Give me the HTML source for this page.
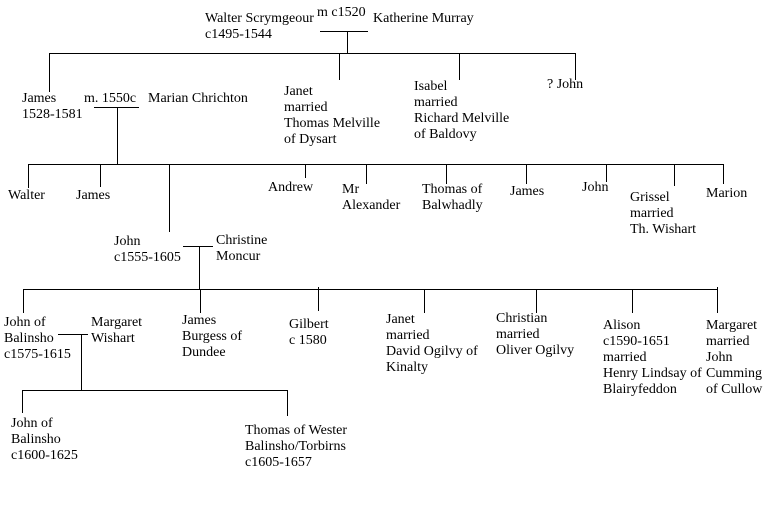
<!DOCTYPE html>
<html><head><meta charset="utf-8"><style>
body{margin:0;width:774px;height:525px;background:#fff;position:relative;overflow:hidden;font-family:"Liberation Serif",serif;font-size:14px;line-height:16px;color:#000}
.t{position:absolute;white-space:nowrap}
svg{position:absolute;left:0;top:0}
</style></head><body>
<svg width="774" height="525" stroke="#000" stroke-width="1" shape-rendering="crispEdges">
<path d="M320 31.5H368M347.5 31V53M49 53.5H576M49.5 53V92M339.5 53V80M459.5 53V80M575.5 53V80
M94 107.5H139M117.5 107V164M28 164.5H724M28.5 164V188M100.5 164V187M169.5 164V232M305.5 164V178M366.5 164V184M446.5 164V184M526.5 164V184M606.5 164V182M674.5 164V186M723.5 164V184
M183 246.5H213M199.5 246V289M23 289.5H717M23.5 289V313M200.5 289V313M318.5 287V311M424.5 289V313M536.5 289V313M632.5 289V313M717.5 287V313
M58 334.5H88M81.5 334V390M22 390.5H288M22.5 390V413M287.5 390V416" fill="none"/>
</svg>
<div class="t" style="left:205px;top:11px">Walter Scrymgeour<br>c1495-1544</div>
<div class="t" style="left:317px;top:5px">m c1520</div>
<div class="t" style="left:373px;top:11px">Katherine Murray</div>
<div class="t" style="left:22px;top:91px">James<br>1528-1581</div>
<div class="t" style="left:84px;top:91px">m. 1550c</div>
<div class="t" style="left:148px;top:91px">Marian Chrichton</div>
<div class="t" style="left:284px;top:84px">Janet<br>married<br>Thomas Melville<br>of Dysart</div>
<div class="t" style="left:414px;top:79px">Isabel<br>married<br>Richard Melville<br>of Baldovy</div>
<div class="t" style="left:547px;top:77px">? John</div>
<div class="t" style="left:8px;top:188px">Walter</div>
<div class="t" style="left:76px;top:188px">James</div>
<div class="t" style="left:268px;top:180px">Andrew</div>
<div class="t" style="left:342px;top:182px">Mr<br>Alexander</div>
<div class="t" style="left:422px;top:182px">Thomas of<br>Balwhadly</div>
<div class="t" style="left:510px;top:184px">James</div>
<div class="t" style="left:582px;top:180px">John</div>
<div class="t" style="left:630px;top:190px">Grissel<br>married<br>Th. Wishart</div>
<div class="t" style="left:706px;top:186px">Marion</div>
<div class="t" style="left:114px;top:234px">John<br>c1555-1605</div>
<div class="t" style="left:216px;top:233px">Christine<br>Moncur</div>
<div class="t" style="left:4px;top:315px">John of<br>Balinsho<br>c1575-1615</div>
<div class="t" style="left:91px;top:315px">Margaret<br>Wishart</div>
<div class="t" style="left:182px;top:313px">James<br>Burgess of<br>Dundee</div>
<div class="t" style="left:289px;top:317px">Gilbert<br>c 1580</div>
<div class="t" style="left:386px;top:312px">Janet<br>married<br>David Ogilvy of<br>Kinalty</div>
<div class="t" style="left:496px;top:311px">Christian<br>married<br>Oliver Ogilvy</div>
<div class="t" style="left:603px;top:318px">Alison<br>c1590-1651<br>married<br>Henry Lindsay of<br>Blairyfeddon</div>
<div class="t" style="left:706px;top:318px">Margaret<br>married<br>John<br>Cumming<br>of Cullow</div>
<div class="t" style="left:11px;top:416px">John of<br>Balinsho<br>c1600-1625</div>
<div class="t" style="left:245px;top:423px">Thomas of Wester<br>Balinsho/Torbirns<br>c1605-1657</div>
</body></html>
